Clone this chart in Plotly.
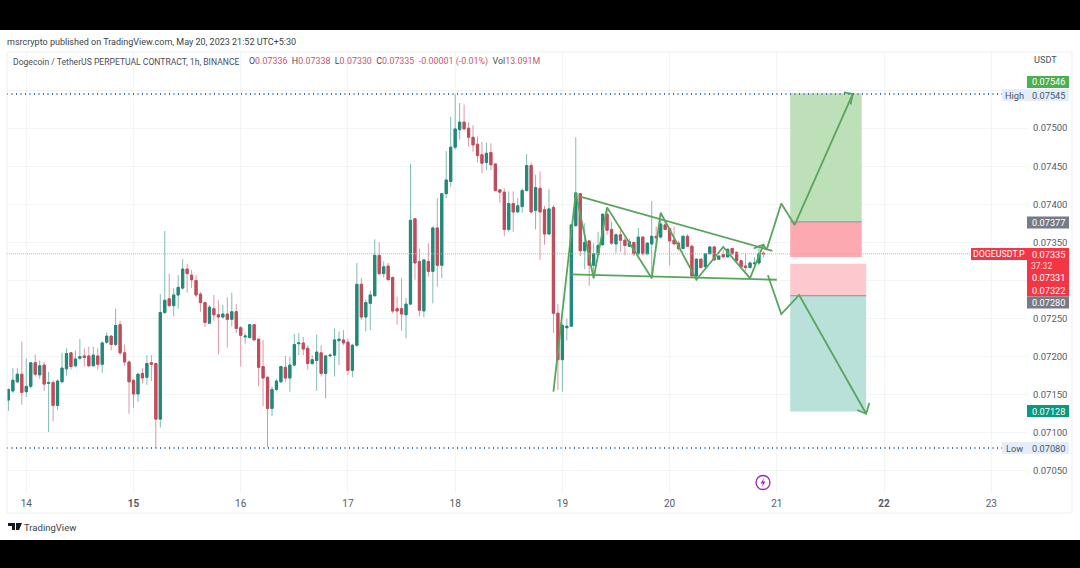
import numpy as np
import pandas as pd
import plotly.graph_objects as go

# hourly candles, prices in 1e-5 USDT
start = "2023-05-13 20:00"
open_e5 = [
    7143,7155,7167,7177,7154,7161,7192,7176,7189,7165,
    7166,7136,7167,7184,7205,7188,7198,7201,7201,7188,
    7201,7190,7219,7227,7216,7242,7205,7193,7169,7151,
    7178,7173,7192,7191,7118,7258,7276,7267,7281,7290,
    7315,7307,7300,7282,7271,7244,7263,7255,7252,7256,
    7249,7259,7238,7226,7225,7242,7223,7187,7173,7132,
    7157,7167,7186,7172,7189,7217,7218,7211,7191,7195,
    7205,7178,7201,7202,7221,7222,7219,7182,7215,7295,
    7252,7270,7280,7333,7309,7319,7304,7263,7263,7255,
    7269,7381,7325,7260,7325,7312,7369,7320,7414,7430,
    7475,7498,7508,7500,7488,7479,7465,7455,7468,7453,
    7419,7416,7367,7401,7390,7397,7418,7451,7392,7421,
    7393,7361,7396,7257,7196,7238,7240,7372,7414,7339,
    7352,7320,7334,7347,7387,7367,7348,7360,7353,7345,
    7350,7335,7357,7335,7348,7358,7357,7373,7368,7353,
    7349,7342,7358,7345,7306,7328,7318,7335,7344,7328,
    7334,7331,7342,7337,7326,7319,7317,7322,7323,7336,
]
high_e5 = [
    7158,7185,7185,7220,7198,7193,7203,7195,7193,7180,
    7169,7170,7205,7211,7206,7208,7223,7211,7213,7213,
    7211,7220,7232,7228,7263,7247,7216,7195,7170,7178,
    7185,7202,7202,7192,7282,7365,7309,7290,7307,7328,
    7322,7314,7307,7285,7272,7268,7281,7274,7268,7278,
    7284,7269,7240,7231,7243,7243,7224,7222,7174,7161,
    7171,7188,7201,7200,7230,7231,7226,7215,7202,7229,
    7215,7202,7204,7237,7233,7235,7224,7217,7323,7303,
    7275,7287,7354,7350,7325,7323,7305,7279,7303,7277,
    7453,7382,7342,7328,7349,7371,7408,7415,7470,7515,
    7545,7533,7531,7508,7504,7489,7482,7481,7480,7454,
    7420,7421,7417,7417,7408,7421,7466,7455,7439,7443,
    7398,7420,7399,7269,7244,7250,7374,7488,7415,7375,
    7353,7349,7364,7388,7395,7377,7362,7371,7358,7355,
    7351,7369,7358,7350,7404,7371,7388,7380,7370,7371,
    7352,7360,7361,7347,7329,7329,7336,7345,7345,7333,
    7340,7342,7343,7338,7327,7336,7325,7331,7347,7338,
]
low_e5 = [
    7129,7152,7165,7137,7147,7158,7174,7171,7155,7101,
    7115,7130,7165,7175,7183,7186,7196,7187,7186,7187,
    7183,7179,7217,7208,7214,7202,7188,7125,7133,7141,
    7165,7163,7168,7080,7107,7256,7265,7253,7263,7288,
    7284,7290,7278,7259,7239,7243,7247,7203,7250,7212,
    7240,7231,7187,7217,7224,7221,7161,7135,7081,7122,
    7155,7166,7167,7154,7187,7202,7202,7183,7189,7155,
    7174,7145,7200,7174,7189,7215,7176,7173,7213,7248,
    7233,7235,7279,7307,7304,7301,7257,7242,7234,7224,
    7268,7301,7253,7252,7305,7270,7292,7303,7408,7423,
    7472,7485,7498,7476,7469,7455,7441,7445,7445,7417,
    7402,7358,7364,7364,7389,7389,7417,7388,7367,7327,
    7347,7360,7231,7156,7154,7221,7239,7371,7332,7315,
    7293,7303,7331,7345,7360,7347,7336,7338,7333,7344,
    7332,7333,7333,7333,7303,7344,7355,7366,7320,7347,
    7339,7341,7344,7305,7300,7316,7317,7334,7326,7327,
    7330,7330,7334,7325,7316,7312,7316,7320,7320,7330,
]
close_e5 = [
    7157,7169,7177,7153,7161,7192,7177,7188,7164,7166,
    7136,7168,7185,7204,7187,7197,7200,7199,7188,7202,
    7190,7218,7227,7216,7241,7205,7193,7167,7151,7177,
    7172,7191,7190,7118,7258,7274,7267,7281,7291,7315,
    7309,7301,7281,7271,7245,7265,7255,7252,7256,7249,
    7259,7237,7228,7227,7242,7222,7186,7172,7132,7157,
    7168,7187,7172,7189,7216,7218,7210,7191,7196,7206,
    7178,7201,7202,7222,7223,7218,7182,7215,7295,7252,
    7271,7281,7333,7309,7318,7301,7260,7260,7256,7269,
    7379,7323,7261,7327,7312,7369,7320,7414,7432,7475,
    7499,7508,7499,7488,7478,7464,7454,7467,7452,7418,
    7416,7367,7401,7390,7398,7418,7451,7390,7422,7390,
    7361,7394,7257,7196,7241,7240,7373,7415,7339,7350,
    7320,7335,7346,7387,7366,7349,7360,7353,7346,7351,
    7335,7357,7335,7349,7358,7356,7374,7367,7352,7348,
    7342,7358,7345,7306,7328,7317,7335,7344,7327,7332,
    7331,7341,7335,7326,7318,7317,7323,7323,7335,7335,
]

day_ticks = ["2023-05-14","2023-05-15","2023-05-16","2023-05-17","2023-05-18",
             "2023-05-19","2023-05-20","2023-05-21","2023-05-22","2023-05-23"]
day_labels = ["14","<b>15</b>","16","17","18","19","20","21","<b>22</b>","23"]
price_ticks = [0.0705,0.0710,0.0715,0.0720,0.0725,0.0730,0.0735,0.0740,0.0745,0.0750,0.0755]
# 0.07300 and 0.07550 sit under the price tags in the original
price_labels = ["0.07050","0.07100","0.07150","0.07200","0.07250","","0.07350","0.07400","0.07450","0.07500",""]

high_level = 0.07545
low_level = 0.07080
last_price = 0.07335

# long / short position tools
long_x = ["2023-05-21 03:00", "2023-05-21 19:00"]
short_x = ["2023-05-21 03:00", "2023-05-21 20:00"]
long_target, long_entry, long_stop = 0.07546, 0.07377, 0.07331
short_stop, short_entry, short_target = 0.07322, 0.07280, 0.07128

# hand drawn lines
zigzag_x = ["2023-05-18 22:00","2023-05-19 03:00","2023-05-19 07:00","2023-05-19 10:00","2023-05-19 20:00",
            "2023-05-19 22:00","2023-05-20 06:00","2023-05-20 12:00","2023-05-20 18:00","2023-05-20 21:00"]
zigzag_y = [0.07154,0.07415,0.07303,0.07396,0.07303,0.07389,0.07301,0.07344,0.07303,0.07347]
zighead_x = ["2023-05-20 18:48","2023-05-20 21:00","2023-05-20 21:42"]
zighead_y = [0.07342,0.07347,0.07340]
upper_x = ["2023-05-19 04:00","2023-05-20 23:00"]
upper_y = [0.07410,0.07339]
lower_x = ["2023-05-19 02:00","2023-05-21 00:00"]
lower_y = [0.07308,0.07301]
up_x = ["2023-05-20 21:42","2023-05-21 01:00","2023-05-21 04:00","2023-05-21 17:00"]
up_y = [0.07340,0.07401,0.07373,0.07545]
uphead_x = ["2023-05-21 15:00","2023-05-21 17:00","2023-05-21 16:30"]
uphead_y = [0.07547,0.07545,0.07531]
down_x = ["2023-05-20 22:00","2023-05-21 01:00","2023-05-21 05:00","2023-05-21 20:00"]
down_y = [0.07307,0.07256,0.07281,0.07125]
downhead_x = ["2023-05-21 18:00","2023-05-21 20:00","2023-05-21 20:42"]
downhead_y = [0.07130,0.07125,0.07139]

# plot area in page pixels
L, R, T, B = 7, 1027, 52, 493
def px(x):
    return (x - L) / (R - L)
def py(y):
    return (B - y) / (B - T)

times = pd.date_range(start, periods=len(open_e5), freq="h")
opens = np.array(open_e5) / 1e5
highs = np.array(high_e5) / 1e5
lows = np.array(low_e5) / 1e5
closes = np.array(close_e5) / 1e5

fig = go.Figure()
# pale wicks first, then the solid bodies on top
fig.add_trace(go.Candlestick(
    x=times, open=opens, high=highs, low=lows, close=closes,
    increasing=dict(line=dict(color="#7fbcb1", width=1), fillcolor="#22897a"),
    decreasing=dict(line=dict(color="#dc98a2", width=1), fillcolor="#c04c5c"),
    whiskerwidth=0, showlegend=False, hoverinfo="skip",
))
fig.add_trace(go.Candlestick(
    x=times, open=opens, high=np.maximum(opens, closes), low=np.minimum(opens, closes), close=closes,
    increasing=dict(line=dict(color="#22897a", width=1), fillcolor="#22897a"),
    decreasing=dict(line=dict(color="#c04c5c", width=1), fillcolor="#c04c5c"),
    whiskerwidth=0, showlegend=False, hoverinfo="skip",
))

drawn = [(zigzag_x, zigzag_y), (zighead_x, zighead_y), (upper_x, upper_y), (lower_x, lower_y),
         (up_x, up_y), (uphead_x, uphead_y), (down_x, down_y), (downhead_x, downhead_y)]
for xs, ys in drawn:
    fig.add_trace(go.Scatter(x=xs, y=ys, mode="lines", showlegend=False, hoverinfo="skip",
                             line=dict(color="#58a55c", width=1.8)))

shapes = []
def rect(x0, x1, y0, y1, color):
    shapes.append(dict(type="rect", xref="x", yref="y", x0=x0, x1=x1, y0=y0, y1=y1,
                       fillcolor=color, line=dict(width=0), layer="between"))

rect(long_x[0], long_x[1], long_entry, long_target, "#bde0b9")
rect(long_x[0], long_x[1], long_stop, long_entry, "#fca9b1")
rect(short_x[0], short_x[1], short_entry, short_stop, "#fdc9ce")
rect(short_x[0], short_x[1], short_target, short_entry, "#b9e1da")
for xs, level in [(long_x, long_entry), (short_x, short_entry)]:
    shapes.append(dict(type="line", xref="x", yref="y", x0=xs[0], x1=xs[1], y0=level, y1=level,
                       line=dict(color="#8a8f99", width=1)))

# high / low / last price lines
for level, x_end in [(high_level, 1002), (low_level, 1002)]:
    shapes.append(dict(type="line", xref="paper", yref="y", x0=0, x1=px(x_end), y0=level, y1=level,
                       line=dict(color="#3f6fa5", width=2, dash="1px,3.5px")))
shapes.append(dict(type="line", xref="paper", yref="y", x0=0, x1=px(971), y0=last_price, y1=last_price,
                   line=dict(color="#e7a5ab", width=1, dash="1px,1px")))

def box(x0, x1, y0, y1, fill=None, line=None):
    shapes.append(dict(type="rect", xref="paper", yref="paper", x0=px(x0), x1=px(x1), y0=py(y0), y1=py(y1),
                       fillcolor=fill or "rgba(0,0,0,0)", line=dict(color=line or "rgba(0,0,0,0)", width=1)))

# black bars and chart frame
box(7, 1072, 52, 513, line="#eceef1")
box(0, 1080, 0, 30, fill="#000000")
box(0, 1080, 540, 568, fill="#000000")

# price labels
box(1002, 1069, 89, 101, fill="#e3eefa")
box(1002, 1069, 442, 454, fill="#e3eefa")
box(1027, 1069, 76, 88, fill="#4caf50")
box(1027, 1069, 216.5, 228.5, fill="#787b86")
box(971, 1027, 248, 260, fill="#f23645")
box(1027, 1069, 248, 296.5, fill="#f23645")
box(1027, 1069, 296.5, 308.5, fill="#787b86")
box(1027, 1069, 405, 417, fill="#089981")

# replay bolt icon
shapes.append(dict(type="circle", xref="paper", yref="paper", x0=px(756), x1=px(770), y0=py(475.5), y1=py(489.5),
                   line=dict(color="#9c27b0", width=1.3)))
bolt = [(764.5, 477.5), (760.5, 483.5), (763, 483.5), (761.5, 487.5), (765.5, 481.5), (763, 481.5)]
shapes.append(dict(type="path", xref="paper", yref="paper", fillcolor="#9c27b0", line=dict(width=0),
                   path="M " + " L ".join(f"{px(a):.5f},{py(b):.5f}" for a, b in bolt) + " Z"))

# TradingView logo
logo = [(8, 523), (15, 523), (15, 530), (12, 530), (12, 526), (8, 526)]
shapes.append(dict(type="path", xref="paper", yref="paper", fillcolor="#131722", line=dict(width=0),
                   path="M " + " L ".join(f"{px(a):.5f},{py(b):.5f}" for a, b in logo) + " Z"))
logo2 = [(16, 523), (22, 523), (19, 530), (16, 530)]
shapes.append(dict(type="path", xref="paper", yref="paper", fillcolor="#131722", line=dict(width=0),
                   path="M " + " L ".join(f"{px(a):.5f},{py(b):.5f}" for a, b in logo2) + " Z"))

font = "Roboto"
annotations = []
def label(x, y, text, size=9.2, color="#555b66", anchor="center"):
    annotations.append(dict(xref="paper", yref="paper", x=px(x), y=py(y), text=text, showarrow=False,
                            xanchor=anchor, yanchor="middle", align=anchor, borderpad=0, borderwidth=0,
                            font=dict(family=font, size=size, color=color)))

label(7, 42, "msrcrypto published on TradingView.com, May 20, 2023 21:52 UTC+5:30", 9, "#3c3f46", "left")
label(13, 62, "Dogecoin / TetherUS PERPETUAL CONTRACT, 1h, BINANCE", 8.6, "#4a4e58", "left")
red = "#c9566a"
label(249, 62, f'O<span style="color:{red}">0.07336</span>  H<span style="color:{red}">0.07338</span>'
      f'  L<span style="color:{red}">0.07330</span>  C<span style="color:{red}">0.07335</span>'
      f'  <span style="color:{red}">-0.00001 (-0.01%)</span>  Vol<span style="color:{red}">13.091M</span>',
      8.9, "#4a4e58", "left")
label(1045, 60, "USDT", 9.2, "#4a4e58")
label(1048, 82, "0.07546", 9.2, "#ffffff")
label(1014, 95, "High", 9.2, "#4a5568")
label(1048, 95, "0.07545", 9.2, "#4a5568")
label(1014, 448, "Low", 9.2, "#4a5568")
label(1048, 448, "0.07080", 9.2, "#4a5568")
label(1048, 222.5, "0.07377", 9.2, "#ffffff")
label(999, 254, "DOGEUSDT.P", 8.8, "#ffffff")
label(1048, 254, "0.07335", 9.2, "#ffffff")
label(1041, 265.5, "37:32", 8.5, "#ffd9dc")
label(1048, 277, "0.07331", 9.2, "#ffffff")
label(1048, 290, "0.07322", 9.2, "#ffffff")
label(1048, 302.5, "0.07280", 9.2, "#ffffff")
label(1048, 411, "0.07128", 9.2, "#ffffff")
label(24, 527, "TradingView", 9.5, "#3c3f46", "left")

fig.update_layout(
    width=1080, height=568,
    margin=dict(l=L, r=1080 - R, t=T, b=568 - B, pad=0),
    paper_bgcolor="#ffffff", plot_bgcolor="#ffffff",
    font=dict(family=font, size=9.5, color="#555b66"),
    shapes=shapes, annotations=annotations,
    showlegend=False,
)
fig.update_xaxes(
    type="date", range=["2023-05-13 19:41", "2023-05-23 08:00"], rangeslider_visible=False,
    tickvals=day_ticks, ticktext=day_labels, ticks="outside", ticklen=1, tickcolor="#ffffff",
    showgrid=True, gridcolor="#f3f4f6", gridwidth=1, zeroline=False, showline=False,
    tickfont=dict(family=font, size=10, color="#555b66"),
)
fig.update_yaxes(
    side="right", range=[0.07021, 0.07600], tickvals=price_ticks, ticktext=price_labels,
    ticks="outside", ticklen=3, tickcolor="#ffffff",
    showgrid=True, gridcolor="#f3f4f6", gridwidth=1, zeroline=False, showline=False,
    tickfont=dict(family=font, size=9.5, color="#555b66"),
)

fig.write_html("out.html", config={"displayModeBar": False}, post_script="document.body.style.margin='0';")
